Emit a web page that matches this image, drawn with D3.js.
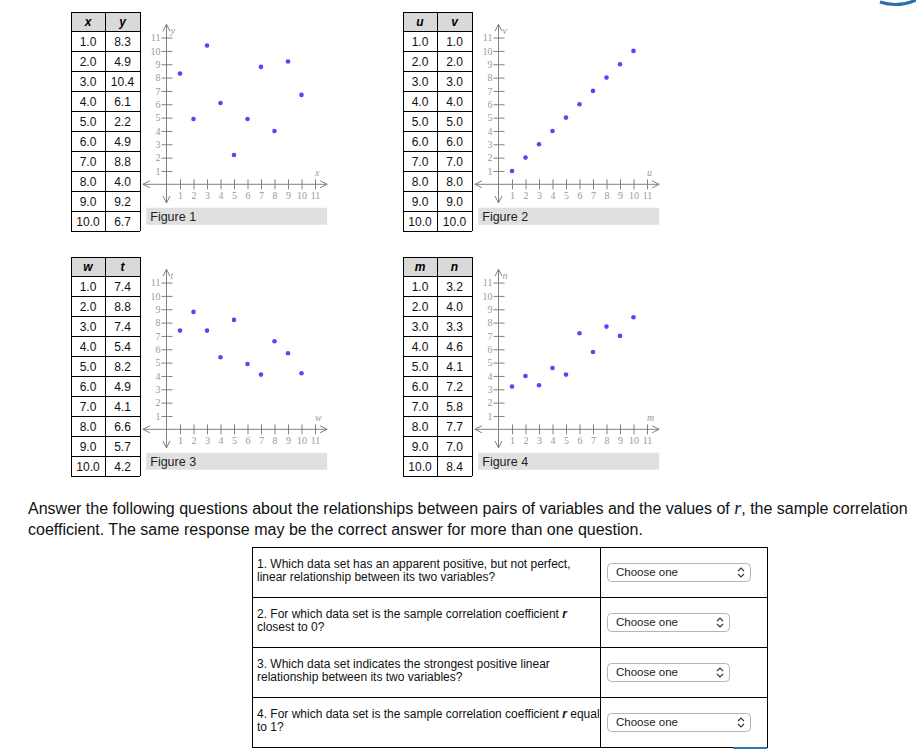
<!DOCTYPE html>
<html><head><meta charset="utf-8">
<script src="https://cdn.jsdelivr.net/npm/d3@7"></script>
<style>
html,body{margin:0;padding:0;background:#fff;}
svg{display:block;}
</style></head>
<body>
<svg id="chart" width="916" height="749"></svg>
<script>
// ---------------- data ----------------
const xValues = [1, 2, 3, 4, 5, 6, 7, 8, 9, 10];
const fig1Y = [8.3, 4.9, 10.4, 6.1, 2.2, 4.9, 8.8, 4.0, 9.2, 6.7];
const fig2V = [1.0, 2.0, 3.0, 4.0, 5.0, 6.0, 7.0, 8.0, 9.0, 10.0];
const fig3T = [7.4, 8.8, 7.4, 5.4, 8.2, 4.9, 4.1, 6.6, 5.7, 4.2];
const fig4N = [3.2, 4.0, 3.3, 4.6, 4.1, 7.2, 5.8, 7.7, 7.0, 8.4];
const xNames = ["x", "u", "w", "m"];
const yNames = ["y", "v", "t", "n"];
const figureTitles = ["Figure 1", "Figure 2", "Figure 3", "Figure 4"];
const tickLabels = [1, 2, 3, 4, 5, 6, 7, 8, 9, 10, 11];
const questionLines = [
  [["1. Which data set has an apparent positive, but not perfect,"], ["linear relationship between its two variables?"]],
  [["2. For which data set is the sample correlation coefficient ", "r"], ["closest to 0?"]],
  [["3. Which data set indicates the strongest positive linear"], ["relationship between its two variables?"]],
  [["4. For which data set is the sample correlation coefficient ", "r", " equal"], ["to 1?"]]
];
const selectLabel = "Choose one";

// ---------------- layout ----------------
const svg = d3.select("#chart");
const series = [fig1Y, fig2V, fig3T, fig4N];
const panels = [
  {tx: 71, ty: 12, ox: 166.5, oy: 184.3},
  {tx: 403, ty: 12, ox: 498.5, oy: 184.3},
  {tx: 71, ty: 257, ox: 166.5, oy: 429.3},
  {tx: 403, ty: 257, ox: 498.5, oy: 429.3}
];
const axisColor = "#808080";
const labelColor = "#9a9a9a";
const pointColor = "#6a3cf8";

panels.forEach((p, i) => {
  const vals = series[i];
  const g = svg.append("g");
  // ----- table -----
  const colW = [34, 35];
  const headH = 19, rowH = 20;
  const tg = g.append("g").attr("transform", `translate(${p.tx},${p.ty})`);
  tg.append("rect").attr("x", 0).attr("y", 0).attr("width", colW[0] + colW[1]).attr("height", headH)
    .attr("fill", "#d9d9d9");
  const rows = xValues.map((d, k) => [d, vals[k]]);
  [xNames[i], yNames[i]].forEach((nm, c) => {
    tg.append("text").attr("x", c === 0 ? colW[0] / 2 : colW[0] + colW[1] / 2).attr("y", headH / 2 + 4.5)
      .attr("text-anchor", "middle").attr("font-family", "Liberation Sans, Arial, sans-serif")
      .attr("font-size", 12).attr("font-weight", "bold").attr("font-style", "italic").attr("fill", "#000").text(nm);
  });
  rows.forEach((r, k) => {
    const yy = headH + k * rowH;
    r.forEach((v, c) => {
      tg.append("text").attr("x", c === 0 ? colW[0] / 2 : colW[0] + colW[1] / 2).attr("y", yy + rowH / 2 + 4.5)
        .attr("text-anchor", "middle").attr("font-family", "Liberation Sans, Arial, sans-serif")
        .attr("font-size", 12).attr("fill", "#111").text(v.toFixed(1));
    });
  });
  const totalH = headH + rowH * rows.length;
  const lines = [];
  lines.push([0, 0, colW[0] + colW[1], 0]);
  for (let k = 0; k <= rows.length; k++) lines.push([0, headH + k * rowH, colW[0] + colW[1], headH + k * rowH]);
  lines.push([0, 0, 0, totalH]);
  lines.push([colW[0], 0, colW[0], totalH]);
  lines.push([colW[0] + colW[1], 0, colW[0] + colW[1], totalH]);
  tg.selectAll("line.grid").data(lines).join("line").attr("class", "grid")
    .attr("x1", d => d[0]).attr("y1", d => d[1]).attr("x2", d => d[2]).attr("y2", d => d[3])
    .attr("stroke", "#000").attr("stroke-width", 1).attr("shape-rendering", "crispEdges");

  // ----- plot -----
  const unit = 13.5, unitY = 13.34;
  const x = d3.scaleLinear().domain([0, 11]).range([p.ox, p.ox + 11 * unit]);
  const y = d3.scaleLinear().domain([0, 11]).range([p.oy, p.oy - 11 * unitY]);

  g.append("rect").attr("x", x(-1.5)).attr("y", y(-1.76)).attr("width", x(11.9) - x(-1.5)).attr("height", 17)
    .attr("fill", "#e0e0e0");
  g.append("text").attr("x", x(-1.5) + 4).attr("y", y(-1.76) + 13).attr("font-family", "Liberation Sans, Arial, sans-serif")
    .attr("font-size", 12.5).attr("fill", "#222").text(figureTitles[i]);

  const xl = x(-1.75), xr = x(11.9), yt = y(12.0), yb = y(-1.4);
  g.append("line").attr("x1", xl).attr("x2", xr).attr("y1", p.oy).attr("y2", p.oy).attr("stroke", axisColor);
  g.append("line").attr("y1", yt).attr("y2", yb).attr("x1", p.ox).attr("x2", p.ox).attr("stroke", axisColor);
  const arrows = [
    `M${xl + 7},${p.oy - 3.5}L${xl},${p.oy}L${xl + 7},${p.oy + 3.5}`,
    `M${xr - 7},${p.oy - 3.5}L${xr},${p.oy}L${xr - 7},${p.oy + 3.5}`,
    `M${p.ox - 3.5},${yt + 7}L${p.ox},${yt}L${p.ox + 3.5},${yt + 7}`,
    `M${p.ox - 3.5},${yb - 7}L${p.ox},${yb}L${p.ox + 3.5},${yb - 7}`
  ];
  g.selectAll("path.arrow").data(arrows).join("path").attr("class", "arrow").attr("d", d => d)
    .attr("fill", "none").attr("stroke", axisColor).attr("stroke-width", 1);

  const xa = g.append("g").attr("transform", `translate(0,${p.oy})`)
    .call(d3.axisBottom(x).tickValues(tickLabels).tickSize(6).tickPadding(5).tickFormat(d3.format("d")));
  xa.select(".domain").remove();
  xa.selectAll(".tick line").attr("y1", -5).attr("y2", 5).attr("stroke", axisColor);
  xa.selectAll(".tick text").attr("font-family", "Liberation Serif, Times New Roman, serif").attr("font-size", 10)
    .attr("fill", labelColor).attr("y", 8);
  const ya = g.append("g").attr("transform", `translate(${p.ox},0)`)
    .call(d3.axisLeft(y).tickValues(tickLabels).tickSize(6).tickPadding(4).tickFormat(d3.format("d")));
  ya.select(".domain").remove();
  ya.selectAll(".tick line").attr("x1", -5).attr("x2", 6).attr("stroke", axisColor);
  ya.selectAll(".tick text").attr("font-family", "Liberation Serif, Times New Roman, serif").attr("font-size", 10)
    .attr("fill", labelColor).attr("x", -6);

  g.append("text").attr("x", x(11.0)).attr("y", y(0.65)).attr("font-family", "Liberation Serif, Times New Roman, serif")
    .attr("font-style", "italic").attr("font-size", 10).attr("fill", labelColor).text(xNames[i]);
  g.append("text").attr("x", p.ox + 4).attr("y", y(11.3)).attr("font-family", "Liberation Serif, Times New Roman, serif")
    .attr("font-style", "italic").attr("font-size", 10).attr("fill", labelColor).text(yNames[i]);

  g.selectAll("circle.pt").data(rows).join("circle").attr("class", "pt")
    .attr("cx", d => x(d[0])).attr("cy", d => y(d[1])).attr("r", 2.3).attr("fill", pointColor);
});

// ---------------- paragraph ----------------
const para = svg.append("g").attr("font-family", "Liberation Sans, Arial, sans-serif").attr("font-size", 16).attr("fill", "#111");
const p1 = para.append("text").attr("x", 28).attr("y", 514);
p1.append("tspan").text("Answer the following questions about the relationships between pairs of variables and the values of ");
p1.append("tspan").attr("font-family", "Liberation Serif, Times New Roman, serif").attr("font-style", "italic").attr("font-size", 18).text("r");
p1.append("tspan").text(", the sample correlation");
para.append("text").attr("x", 28).attr("y", 535).text("coefficient. The same response may be the correct answer for more than one question.");

// ---------------- question table ----------------
const qt = {x0: 252, x1: 600, x2: 767, y0: 547, rowH: 50};
const qg = svg.append("g");
const rowsY = d3.range(questionLines.length + 1).map(k => qt.y0 + k * qt.rowH);
qg.selectAll("line.h").data(rowsY).join("line").attr("class", "h")
  .attr("x1", qt.x0).attr("x2", qt.x2).attr("y1", d => d + 0.5).attr("y2", d => d + 0.5).attr("stroke", "#000");
qg.selectAll("line.v").data([qt.x0, qt.x1, qt.x2]).join("line").attr("class", "v")
  .attr("x1", d => d + 0.5).attr("x2", d => d + 0.5).attr("y1", qt.y0).attr("y2", rowsY[rowsY.length - 1] + 1).attr("stroke", "#000");

const selectWidths = [143, 122, 122, 143];
questionLines.forEach((lines, k) => {
  const top = qt.y0 + k * qt.rowH;
  lines.forEach((parts, li) => {
    const t = qg.append("text").attr("x", qt.x0 + 5).attr("y", top + 21 + li * 13)
      .attr("font-family", "Liberation Sans, Arial, sans-serif").attr("font-size", 12).attr("fill", "#111");
    parts.forEach(s => {
      const ts = t.append("tspan").text(s);
      if (s === "r") ts.attr("font-weight", "bold").attr("font-style", "italic");
    });
  });
  const sx = 607, sy = top + 16, sw = selectWidths[k], sh = 18;
  qg.append("rect").attr("x", sx + 0.5).attr("y", sy + 0.5).attr("width", sw).attr("height", sh).attr("rx", 4)
    .attr("fill", "#fff").attr("stroke", "#b5b5b5");
  qg.append("text").attr("x", sx + 9).attr("y", sy + 13).attr("font-family", "Liberation Sans, Arial, sans-serif")
    .attr("font-size", 11.5).attr("fill", "#222").text(selectLabel);
  const cx = sx + sw - 9, cy = sy + 9.5;
  qg.append("path").attr("d", `M${cx - 3},${cy - 1.5}L${cx},${cy - 4.5}L${cx + 3},${cy - 1.5}M${cx - 3},${cy + 1.5}L${cx},${cy + 4.5}L${cx + 3},${cy + 1.5}`)
    .attr("fill", "none").attr("stroke", "#333").attr("stroke-width", 1.1);
});

// decorative page fragments
svg.append("path").attr("d", "M880,2 Q898,8 916,0").attr("fill", "none").attr("stroke", "#2a6fa8").attr("stroke-width", 3);
svg.append("rect").attr("x", 733).attr("y", 747).attr("width", 34).attr("height", 2).attr("fill", "#2a7ab8");
</script>
</body></html>
